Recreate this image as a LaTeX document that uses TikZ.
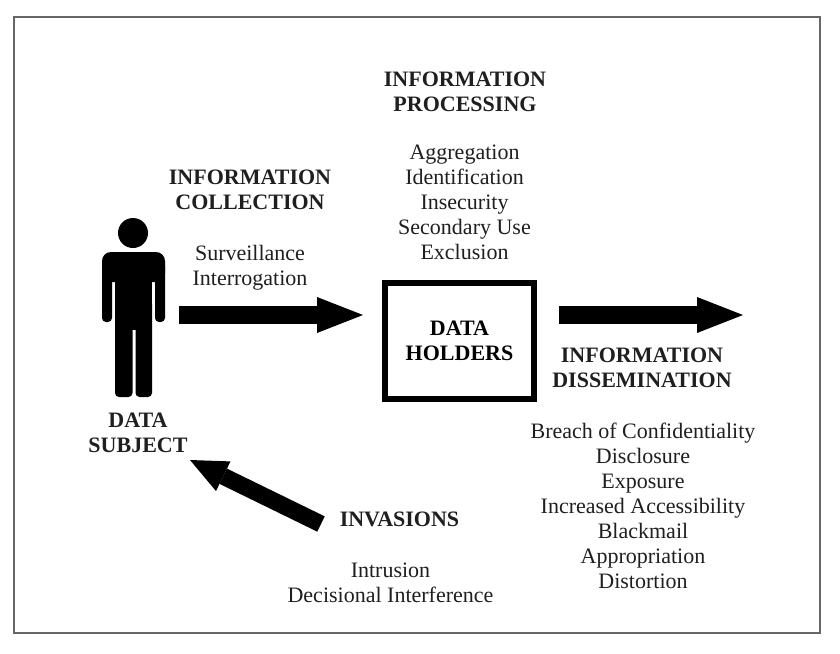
\documentclass[tikz,border=0pt]{standalone}
\usepackage{fontspec}
\setmainfont{Liberation Serif}
\usetikzlibrary{arrows.meta}
\tikzset{
  x=1pt, y=-1pt,
  txt/.style={anchor=north, inner sep=0pt, align=center, font=\fontsize{22}{25}\selectfont, text=black!88},
  head/.style={txt, font=\fontsize{22}{25}\selectfont\bfseries},
  blockarrow/.style={line width=18pt, -{Triangle[width=36pt,length=46pt,line width=0pt]}},
  thinblockarrow/.style={line width=17pt, -{Triangle[width=33pt,length=37pt,line width=0pt]}},
  frame/.style={draw=black!60, line width=1.5pt},
  holderbox/.style={draw=black, line width=6pt, minimum width=149pt, minimum height=116pt, inner sep=0pt, align=center, font=\fontsize{22}{25}\selectfont\bfseries}
}
\begin{document}
\begin{tikzpicture}
\useasboundingbox (0,0) rectangle (840,653);
\fill[white] (0,0) rectangle (840,653);
\draw[frame] (14,17) rectangle (820,633);

% person (data subject)
\begin{scope}[fill=black]
  \fill (133,233) circle (15);
  \fill[rounded corners=9pt] (102,252) rectangle (165,282);
  \fill[rounded corners=4pt] (102,262) rectangle (112,322);
  \fill[rounded corners=4pt] (155,262) rectangle (165,322);
  \fill (115,256) rectangle (152,330);
  \fill[rounded corners=4pt] (115,300) rectangle (132.5,397);
  \fill[rounded corners=4pt] (135.5,300) rectangle (152,397);
\end{scope}
\node[head] (subject) at (138,413) {DATA\\SUBJECT};

% data holders box
\node[holderbox] (holders) at (459.5,341) {DATA\\HOLDERS};

% headings and lists
\node[head] (proch) at (465,71.5) {INFORMATION\\PROCESSING};
\node[txt] (procl) at (464.5,145) {Aggregation\\Identification\\Insecurity\\Secondary Use\\Exclusion};
\node[head] (collh) at (250,169.5) {INFORMATION\\COLLECTION};
\node[txt] (colll) at (250,245.5) {Surveillance\\Interrogation};
\node[head] (dissh) at (642,348) {INFORMATION\\DISSEMINATION};
\node[txt] (dissl) at (643,423) {Breach of Confidentiality\\Disclosure\\Exposure\\Increased Accessibility\\Blackmail\\Appropriation\\Distortion};
\node[head] (invh) at (399.5,511.5) {INVASIONS};
\node[txt] (invl) at (390.5,562.5) {Intrusion\\Decisional Interference};

% block arrows
\coordinate (collA) at (179,315);
\coordinate (collB) at (363,315);
\coordinate (dissA) at (559,315);
\coordinate (dissB) at (743,315);
\coordinate (invA) at (321,524);
\coordinate (invB) at (190,460);
\draw[blockarrow] (collA) -- (collB);
\draw[blockarrow] (dissA) -- (dissB);
\draw[thinblockarrow] (invA) -- (invB);
\end{tikzpicture}
\end{document}
